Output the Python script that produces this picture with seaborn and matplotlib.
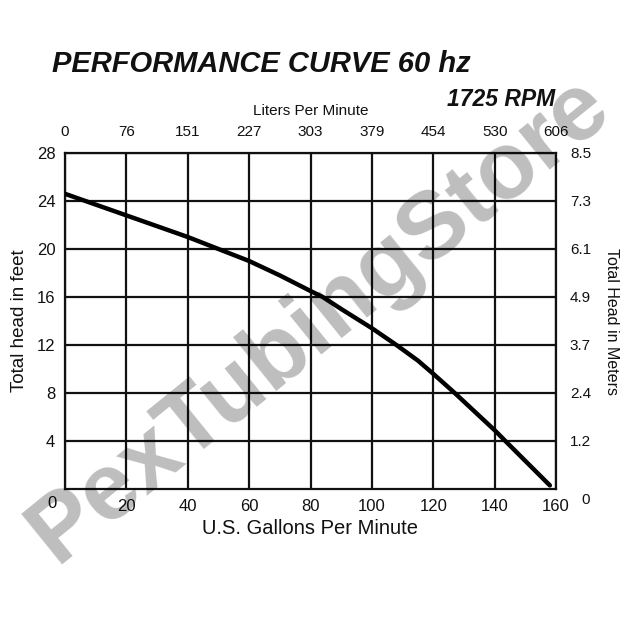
import matplotlib
matplotlib.use("Agg")
import matplotlib.pyplot as plt
import seaborn as sns
import pandas as pd

# ---- data ----
gpm = [0, 20, 40, 50, 60, 70, 80, 84, 90, 100, 108, 115, 120, 127, 140, 143.5, 158]
head_ft = [24.6, 22.8, 21.0, 20.0, 19.0, 17.8, 16.5, 16.0, 15.0, 13.4, 12.0, 10.7, 9.6, 8.0, 4.9, 4.0, 0.3]

gpm_ticks = [20, 40, 60, 80, 100, 120, 140, 160]
lpm_labels = ["0", "76", "151", "227", "303", "379", "454", "530", "606"]
ft_ticks = [4, 8, 12, 16, 20, 24, 28]
m_labels = ["1.2", "2.4", "3.7", "4.9", "6.1", "7.3", "8.5"]

title = "PERFORMANCE CURVE 60 hz"
rpm_text = "1725 RPM"
watermark = "PexTubingStore"

sns.set_theme(style="white")
plt.rcParams["font.family"] = ["Liberation Sans", "DejaVu Sans"]

fig = plt.figure(figsize=(6.4, 6.4), dpi=100)
ax = fig.add_axes([65 / 640, 1 - 489 / 640, (556 - 65) / 640, (489 - 153) / 640])

df = pd.DataFrame({"gpm": gpm, "head": head_ft})
sns.lineplot(data=df, x="gpm", y="head", ax=ax, color="black", linewidth=3.2, zorder=5)

ax.set_xlim(0, 160)
ax.set_ylim(0, 28)
ax.set_xticks([0] + gpm_ticks)
ax.set_xticklabels([""] + [str(t) for t in gpm_ticks], fontsize=12)
ax.set_yticks(ft_ticks)
ax.set_yticklabels([str(t) for t in ft_ticks], fontsize=12)
ax.tick_params(axis="both", length=0, pad=7, colors="#111111")
ax.grid(True, color="#111111", linewidth=1.6)
for s in ax.spines.values():
    s.set_color("#111111")
    s.set_linewidth(1.6)
ax.set_xlabel("U.S. Gallons Per Minute", fontsize=14.5, labelpad=4, color="#111111")
ax.set_ylabel("Total head in feet", fontsize=13.5, labelpad=6, color="#111111")

# top axis (liters per minute)
axt = ax.twiny()
axt.set_xlim(ax.get_xlim())
axt.set_xticks([0] + gpm_ticks)
axt.set_xticklabels(lpm_labels, fontsize=11)
axt.tick_params(axis="x", length=0, pad=10, colors="#111111")
axt.set_xlabel("Liters Per Minute", fontsize=11, labelpad=7, color="#111111")
for s in axt.spines.values():
    s.set_visible(False)
axt.grid(False)

# right axis (meters)
axr = ax.twinx()
axr.set_ylim(ax.get_ylim())
axr.set_yticks(ft_ticks)
axr.set_yticklabels(m_labels, fontsize=11)
axr.tick_params(axis="y", length=0, pad=10, colors="#111111")
axr.set_ylabel("Total Head in Meters", fontsize=11.5, rotation=270, labelpad=20, color="#111111")
for s in axr.spines.values():
    s.set_visible(False)
axr.grid(False)

# corner zeros
fig.text(52 / 640, 1 - 503 / 640, "0", fontsize=12, ha="center", va="center", color="#111111")
fig.text(586 / 640, 1 - 500 / 640, "0", fontsize=11, ha="center", va="center", color="#111111")

fig.text(52 / 640, 1 - 64 / 640, title, fontsize=21, fontweight="bold", fontstyle="italic",
         ha="left", va="center", color="#111111")
fig.text(555 / 640, 1 - 100 / 640, rpm_text, fontsize=16.5, fontweight="bold", fontstyle="italic",
         ha="right", va="center", color="#111111")

fig.text(0.5, 0.5, watermark, fontsize=68, fontweight="bold", rotation=39,
         ha="center", va="center", color="black", alpha=0.26, zorder=10)

fig.savefig("out.png", dpi=100, facecolor="white")
